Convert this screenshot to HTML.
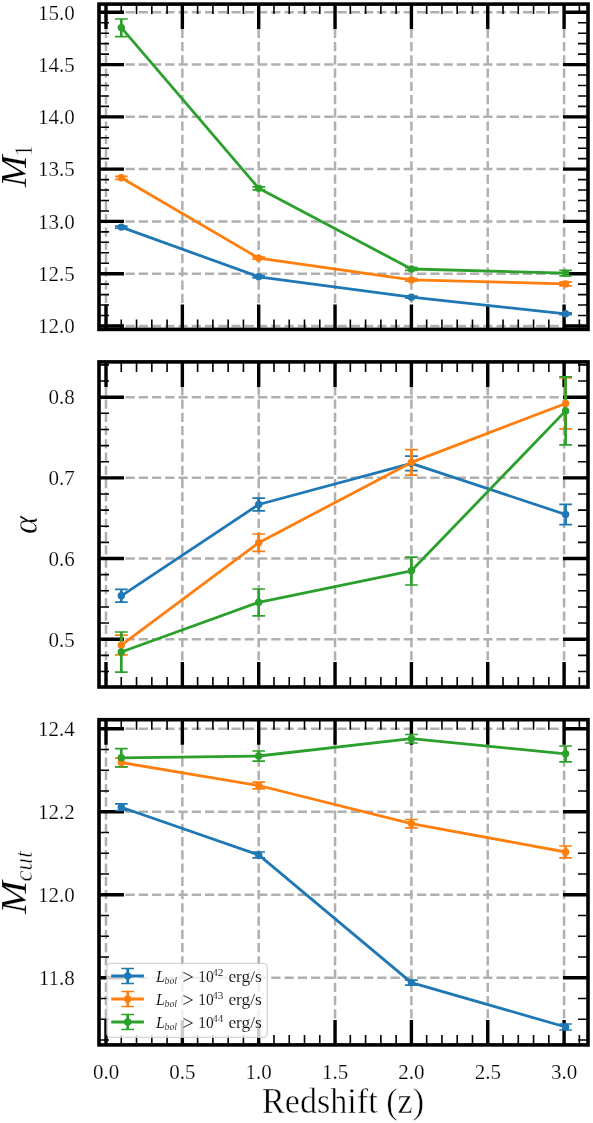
<!DOCTYPE html>
<html><head><meta charset="utf-8"><title>Figure</title><style>html,body{margin:0;padding:0;background:#fff;overflow:hidden}svg{display:block}text{font-family:'Liberation Serif', 'DejaVu Serif', serif;fill:#000;stroke:#fff;stroke-width:0.2px}.big{stroke-width:0.5px}.bm{stroke-width:0.15px}.lg{stroke-width:0.12px}</style></head><body>
<svg width="593" height="1123" viewBox="0 0 593 1123">
<rect width="593" height="1123" fill="#fff"/>
<defs>
<clipPath id="c0"><rect x="99.00" y="4.10" width="489.00" height="325.30"/></clipPath>
<clipPath id="c1"><rect x="99.00" y="361.90" width="489.00" height="325.10"/></clipPath>
<clipPath id="c2"><rect x="99.00" y="719.70" width="489.00" height="325.20"/></clipPath>
</defs>
<g clip-path="url(#c0)">
<path d="M106.00 329.40V4.10M182.35 329.40V4.10M258.70 329.40V4.10M335.05 329.40V4.10M411.40 329.40V4.10M487.75 329.40V4.10M564.10 329.40V4.10M99.00 325.95H588.00M99.00 273.68H588.00M99.00 221.40H588.00M99.00 169.12H588.00M99.00 116.85H588.00M99.00 64.58H588.00M99.00 12.30H588.00" stroke="#b0b0b0" stroke-width="2.50" stroke-dasharray="9.25 4.0" fill="none"/>
<path d="M121.27 4.10V14.10M121.27 329.40V319.40M136.54 4.10V14.10M136.54 329.40V319.40M151.81 4.10V14.10M151.81 329.40V319.40M167.08 4.10V14.10M167.08 329.40V319.40M197.62 4.10V14.10M197.62 329.40V319.40M212.89 4.10V14.10M212.89 329.40V319.40M228.16 4.10V14.10M228.16 329.40V319.40M243.43 4.10V14.10M243.43 329.40V319.40M273.97 4.10V14.10M273.97 329.40V319.40M289.24 4.10V14.10M289.24 329.40V319.40M304.51 4.10V14.10M304.51 329.40V319.40M319.78 4.10V14.10M319.78 329.40V319.40M350.32 4.10V14.10M350.32 329.40V319.40M365.59 4.10V14.10M365.59 329.40V319.40M380.86 4.10V14.10M380.86 329.40V319.40M396.13 4.10V14.10M396.13 329.40V319.40M426.67 4.10V14.10M426.67 329.40V319.40M441.94 4.10V14.10M441.94 329.40V319.40M457.21 4.10V14.10M457.21 329.40V319.40M472.48 4.10V14.10M472.48 329.40V319.40M503.02 4.10V14.10M503.02 329.40V319.40M518.29 4.10V14.10M518.29 329.40V319.40M533.56 4.10V14.10M533.56 329.40V319.40M548.83 4.10V14.10M548.83 329.40V319.40M579.37 4.10V14.10M579.37 329.40V319.40M99.00 315.50H109.00M588.00 315.50H578.00M99.00 305.04H109.00M588.00 305.04H578.00M99.00 294.58H109.00M588.00 294.58H578.00M99.00 284.13H109.00M588.00 284.13H578.00M99.00 263.22H109.00M588.00 263.22H578.00M99.00 252.77H109.00M588.00 252.77H578.00M99.00 242.31H109.00M588.00 242.31H578.00M99.00 231.85H109.00M588.00 231.85H578.00M99.00 210.95H109.00M588.00 210.95H578.00M99.00 200.49H109.00M588.00 200.49H578.00M99.00 190.03H109.00M588.00 190.03H578.00M99.00 179.58H109.00M588.00 179.58H578.00M99.00 158.67H109.00M588.00 158.67H578.00M99.00 148.22H109.00M588.00 148.22H578.00M99.00 137.76H109.00M588.00 137.76H578.00M99.00 127.30H109.00M588.00 127.30H578.00M99.00 106.40H109.00M588.00 106.40H578.00M99.00 95.94H109.00M588.00 95.94H578.00M99.00 85.48H109.00M588.00 85.48H578.00M99.00 75.03H109.00M588.00 75.03H578.00M99.00 54.12H109.00M588.00 54.12H578.00M99.00 43.67H109.00M588.00 43.67H578.00M99.00 33.21H109.00M588.00 33.21H578.00M99.00 22.75H109.00M588.00 22.75H578.00" stroke="#000" stroke-width="1.60" fill="none"/>
<path d="M106.00 4.10V29.10M106.00 329.40V304.40M182.35 4.10V29.10M182.35 329.40V304.40M258.70 4.10V29.10M258.70 329.40V304.40M335.05 4.10V29.10M335.05 329.40V304.40M411.40 4.10V29.10M411.40 329.40V304.40M487.75 4.10V29.10M487.75 329.40V304.40M564.10 4.10V29.10M564.10 329.40V304.40M99.00 325.95H124.00M588.00 325.95H563.00M99.00 273.68H124.00M588.00 273.68H563.00M99.00 221.40H124.00M588.00 221.40H563.00M99.00 169.12H124.00M588.00 169.12H563.00M99.00 116.85H124.00M588.00 116.85H563.00M99.00 64.58H124.00M588.00 64.58H563.00M99.00 12.30H124.00M588.00 12.30H563.00" stroke="#000" stroke-width="3.40" fill="none"/>
<path d="M121.30 226.20V228.20M258.70 275.80V277.80M411.40 296.20V298.20M565.60 312.90V314.70" stroke="#1f77b4" stroke-width="2.70" fill="none"/>
<path d="M114.95 226.20H127.65M114.95 228.20H127.65M252.35 275.80H265.05M252.35 277.80H265.05M405.05 296.20H417.75M405.05 298.20H417.75M559.25 312.90H571.95M559.25 314.70H571.95" stroke="#1f77b4" stroke-width="1.70" fill="none"/>
<path d="M121.30 176.30V179.30M258.70 257.10V259.10M411.40 278.60V281.20M565.60 281.90V285.90" stroke="#ff7f0e" stroke-width="2.70" fill="none"/>
<path d="M114.95 176.30H127.65M114.95 179.30H127.65M252.35 257.10H265.05M252.35 259.10H265.05M405.05 278.60H417.75M405.05 281.20H417.75M559.25 281.90H571.95M559.25 285.90H571.95" stroke="#ff7f0e" stroke-width="1.70" fill="none"/>
<path d="M121.30 19.00V36.60M258.70 186.90V189.80M411.40 267.70V270.30M565.60 270.40V275.80" stroke="#2ca02c" stroke-width="2.70" fill="none"/>
<path d="M114.95 19.00H127.65M114.95 36.60H127.65M252.35 186.90H265.05M252.35 189.80H265.05M405.05 267.70H417.75M405.05 270.30H417.75M559.25 270.40H571.95M559.25 275.80H571.95" stroke="#2ca02c" stroke-width="1.70" fill="none"/>
<polyline points="121.30,227.10 258.70,276.80 411.40,297.20 565.60,313.80" stroke="#1f77b4" stroke-width="2.80" fill="none" stroke-linejoin="round" stroke-linecap="butt"/>
<circle cx="121.30" cy="227.10" r="3.70" fill="#1f77b4"/>
<circle cx="258.70" cy="276.80" r="3.70" fill="#1f77b4"/>
<circle cx="411.40" cy="297.20" r="3.70" fill="#1f77b4"/>
<circle cx="565.60" cy="313.80" r="3.70" fill="#1f77b4"/>
<polyline points="121.30,177.80 258.70,258.10 411.40,279.90 565.60,283.90" stroke="#ff7f0e" stroke-width="2.80" fill="none" stroke-linejoin="round" stroke-linecap="butt"/>
<circle cx="121.30" cy="177.80" r="3.70" fill="#ff7f0e"/>
<circle cx="258.70" cy="258.10" r="3.70" fill="#ff7f0e"/>
<circle cx="411.40" cy="279.90" r="3.70" fill="#ff7f0e"/>
<circle cx="565.60" cy="283.90" r="3.70" fill="#ff7f0e"/>
<polyline points="121.30,27.60 258.70,188.25 411.40,269.00 565.60,273.10" stroke="#2ca02c" stroke-width="2.80" fill="none" stroke-linejoin="round" stroke-linecap="butt"/>
<circle cx="121.30" cy="27.60" r="3.70" fill="#2ca02c"/>
<circle cx="258.70" cy="188.25" r="3.70" fill="#2ca02c"/>
<circle cx="411.40" cy="269.00" r="3.70" fill="#2ca02c"/>
<circle cx="565.60" cy="273.10" r="3.70" fill="#2ca02c"/>
</g>
<rect x="99.00" y="4.10" width="489.00" height="325.30" fill="none" stroke="#000" stroke-width="3.60"/>
<text x="74.80" y="333.25" font-size="21.0" text-anchor="end">12.0</text>
<text x="74.80" y="280.98" font-size="21.0" text-anchor="end">12.5</text>
<text x="74.80" y="228.70" font-size="21.0" text-anchor="end">13.0</text>
<text x="74.80" y="176.43" font-size="21.0" text-anchor="end">13.5</text>
<text x="74.80" y="124.15" font-size="21.0" text-anchor="end">14.0</text>
<text x="74.80" y="71.88" font-size="21.0" text-anchor="end">14.5</text>
<text x="74.80" y="19.60" font-size="21.0" text-anchor="end">15.0</text>
<g clip-path="url(#c1)">
<path d="M106.00 687.00V361.90M182.35 687.00V361.90M258.70 687.00V361.90M335.05 687.00V361.90M411.40 687.00V361.90M487.75 687.00V361.90M564.10 687.00V361.90M99.00 639.20H588.00M99.00 558.53H588.00M99.00 477.86H588.00M99.00 397.19H588.00" stroke="#b0b0b0" stroke-width="2.50" stroke-dasharray="9.25 4.0" fill="none"/>
<path d="M121.27 361.90V371.90M121.27 687.00V677.00M136.54 361.90V371.90M136.54 687.00V677.00M151.81 361.90V371.90M151.81 687.00V677.00M167.08 361.90V371.90M167.08 687.00V677.00M197.62 361.90V371.90M197.62 687.00V677.00M212.89 361.90V371.90M212.89 687.00V677.00M228.16 361.90V371.90M228.16 687.00V677.00M243.43 361.90V371.90M243.43 687.00V677.00M273.97 361.90V371.90M273.97 687.00V677.00M289.24 361.90V371.90M289.24 687.00V677.00M304.51 361.90V371.90M304.51 687.00V677.00M319.78 361.90V371.90M319.78 687.00V677.00M350.32 361.90V371.90M350.32 687.00V677.00M365.59 361.90V371.90M365.59 687.00V677.00M380.86 361.90V371.90M380.86 687.00V677.00M396.13 361.90V371.90M396.13 687.00V677.00M426.67 361.90V371.90M426.67 687.00V677.00M441.94 361.90V371.90M441.94 687.00V677.00M457.21 361.90V371.90M457.21 687.00V677.00M472.48 361.90V371.90M472.48 687.00V677.00M503.02 361.90V371.90M503.02 687.00V677.00M518.29 361.90V371.90M518.29 687.00V677.00M533.56 361.90V371.90M533.56 687.00V677.00M548.83 361.90V371.90M548.83 687.00V677.00M579.37 361.90V371.90M579.37 687.00V677.00M99.00 671.47H109.00M588.00 671.47H578.00M99.00 655.33H109.00M588.00 655.33H578.00M99.00 623.07H109.00M588.00 623.07H578.00M99.00 606.93H109.00M588.00 606.93H578.00M99.00 590.80H109.00M588.00 590.80H578.00M99.00 574.66H109.00M588.00 574.66H578.00M99.00 542.40H109.00M588.00 542.40H578.00M99.00 526.26H109.00M588.00 526.26H578.00M99.00 510.13H109.00M588.00 510.13H578.00M99.00 493.99H109.00M588.00 493.99H578.00M99.00 461.73H109.00M588.00 461.73H578.00M99.00 445.59H109.00M588.00 445.59H578.00M99.00 429.46H109.00M588.00 429.46H578.00M99.00 413.32H109.00M588.00 413.32H578.00M99.00 381.06H109.00M588.00 381.06H578.00M99.00 364.92H109.00M588.00 364.92H578.00" stroke="#000" stroke-width="1.60" fill="none"/>
<path d="M106.00 361.90V386.90M106.00 687.00V662.00M182.35 361.90V386.90M182.35 687.00V662.00M258.70 361.90V386.90M258.70 687.00V662.00M335.05 361.90V386.90M335.05 687.00V662.00M411.40 361.90V386.90M411.40 687.00V662.00M487.75 361.90V386.90M487.75 687.00V662.00M564.10 361.90V386.90M564.10 687.00V662.00M99.00 639.20H124.00M588.00 639.20H563.00M99.00 558.53H124.00M588.00 558.53H563.00M99.00 477.86H124.00M588.00 477.86H563.00M99.00 397.19H124.00M588.00 397.19H563.00" stroke="#000" stroke-width="3.40" fill="none"/>
<path d="M121.30 589.30V602.10M258.70 498.10V510.80M411.40 456.10V470.60M565.60 504.30V524.60" stroke="#1f77b4" stroke-width="2.70" fill="none"/>
<path d="M114.95 589.30H127.65M114.95 602.10H127.65M252.35 498.10H265.05M252.35 510.80H265.05M405.05 456.10H417.75M405.05 470.60H417.75M559.25 504.30H571.95M559.25 524.60H571.95" stroke="#1f77b4" stroke-width="1.70" fill="none"/>
<path d="M121.30 635.20V654.90M258.70 534.00V551.30M411.40 449.70V475.20M565.60 378.00V428.80" stroke="#ff7f0e" stroke-width="2.70" fill="none"/>
<path d="M114.95 635.20H127.65M114.95 654.90H127.65M252.35 534.00H265.05M252.35 551.30H265.05M405.05 449.70H417.75M405.05 475.20H417.75M559.25 378.00H571.95M559.25 428.80H571.95" stroke="#ff7f0e" stroke-width="1.70" fill="none"/>
<path d="M121.30 632.00V672.20M258.70 589.00V615.90M411.40 557.10V585.00M565.60 376.80V444.80" stroke="#2ca02c" stroke-width="2.70" fill="none"/>
<path d="M114.95 632.00H127.65M114.95 672.20H127.65M252.35 589.00H265.05M252.35 615.90H265.05M405.05 557.10H417.75M405.05 585.00H417.75M559.25 376.80H571.95M559.25 444.80H571.95" stroke="#2ca02c" stroke-width="1.70" fill="none"/>
<polyline points="121.30,595.80 258.70,504.50 411.40,463.30 565.60,514.50" stroke="#1f77b4" stroke-width="2.80" fill="none" stroke-linejoin="round" stroke-linecap="butt"/>
<circle cx="121.30" cy="595.80" r="3.70" fill="#1f77b4"/>
<circle cx="258.70" cy="504.50" r="3.70" fill="#1f77b4"/>
<circle cx="411.40" cy="463.30" r="3.70" fill="#1f77b4"/>
<circle cx="565.60" cy="514.50" r="3.70" fill="#1f77b4"/>
<polyline points="121.30,645.10 258.70,542.70 411.40,462.40 565.60,403.50" stroke="#ff7f0e" stroke-width="2.80" fill="none" stroke-linejoin="round" stroke-linecap="butt"/>
<circle cx="121.30" cy="645.10" r="3.70" fill="#ff7f0e"/>
<circle cx="258.70" cy="542.70" r="3.70" fill="#ff7f0e"/>
<circle cx="411.40" cy="462.40" r="3.70" fill="#ff7f0e"/>
<circle cx="565.60" cy="403.50" r="3.70" fill="#ff7f0e"/>
<polyline points="121.30,652.00 258.70,602.30 411.40,570.80 565.60,410.90" stroke="#2ca02c" stroke-width="2.80" fill="none" stroke-linejoin="round" stroke-linecap="butt"/>
<circle cx="121.30" cy="652.00" r="3.70" fill="#2ca02c"/>
<circle cx="258.70" cy="602.30" r="3.70" fill="#2ca02c"/>
<circle cx="411.40" cy="570.80" r="3.70" fill="#2ca02c"/>
<circle cx="565.60" cy="410.90" r="3.70" fill="#2ca02c"/>
</g>
<rect x="99.00" y="361.90" width="489.00" height="325.10" fill="none" stroke="#000" stroke-width="3.60"/>
<text x="74.80" y="646.50" font-size="21.0" text-anchor="end">0.5</text>
<text x="74.80" y="565.83" font-size="21.0" text-anchor="end">0.6</text>
<text x="74.80" y="485.16" font-size="21.0" text-anchor="end">0.7</text>
<text x="74.80" y="404.49" font-size="21.0" text-anchor="end">0.8</text>
<g clip-path="url(#c2)">
<path d="M106.00 1044.90V719.70M182.35 1044.90V719.70M258.70 1044.90V719.70M335.05 1044.90V719.70M411.40 1044.90V719.70M487.75 1044.90V719.70M564.10 1044.90V719.70M99.00 977.70H588.00M99.00 894.70H588.00M99.00 811.70H588.00M99.00 728.70H588.00" stroke="#b0b0b0" stroke-width="2.50" stroke-dasharray="9.25 4.0" fill="none"/>
<path d="M121.27 719.70V729.70M121.27 1044.90V1034.90M136.54 719.70V729.70M136.54 1044.90V1034.90M151.81 719.70V729.70M151.81 1044.90V1034.90M167.08 719.70V729.70M167.08 1044.90V1034.90M197.62 719.70V729.70M197.62 1044.90V1034.90M212.89 719.70V729.70M212.89 1044.90V1034.90M228.16 719.70V729.70M228.16 1044.90V1034.90M243.43 719.70V729.70M243.43 1044.90V1034.90M273.97 719.70V729.70M273.97 1044.90V1034.90M289.24 719.70V729.70M289.24 1044.90V1034.90M304.51 719.70V729.70M304.51 1044.90V1034.90M319.78 719.70V729.70M319.78 1044.90V1034.90M350.32 719.70V729.70M350.32 1044.90V1034.90M365.59 719.70V729.70M365.59 1044.90V1034.90M380.86 719.70V729.70M380.86 1044.90V1034.90M396.13 719.70V729.70M396.13 1044.90V1034.90M426.67 719.70V729.70M426.67 1044.90V1034.90M441.94 719.70V729.70M441.94 1044.90V1034.90M457.21 719.70V729.70M457.21 1044.90V1034.90M472.48 719.70V729.70M472.48 1044.90V1034.90M503.02 719.70V729.70M503.02 1044.90V1034.90M518.29 719.70V729.70M518.29 1044.90V1034.90M533.56 719.70V729.70M533.56 1044.90V1034.90M548.83 719.70V729.70M548.83 1044.90V1034.90M579.37 719.70V729.70M579.37 1044.90V1034.90M99.00 1039.95H109.00M588.00 1039.95H578.00M99.00 1019.20H109.00M588.00 1019.20H578.00M99.00 998.45H109.00M588.00 998.45H578.00M99.00 956.95H109.00M588.00 956.95H578.00M99.00 936.20H109.00M588.00 936.20H578.00M99.00 915.45H109.00M588.00 915.45H578.00M99.00 873.95H109.00M588.00 873.95H578.00M99.00 853.20H109.00M588.00 853.20H578.00M99.00 832.45H109.00M588.00 832.45H578.00M99.00 790.95H109.00M588.00 790.95H578.00M99.00 770.20H109.00M588.00 770.20H578.00M99.00 749.45H109.00M588.00 749.45H578.00" stroke="#000" stroke-width="1.60" fill="none"/>
<path d="M106.00 719.70V744.70M106.00 1044.90V1019.90M182.35 719.70V744.70M182.35 1044.90V1019.90M258.70 719.70V744.70M258.70 1044.90V1019.90M335.05 719.70V744.70M335.05 1044.90V1019.90M411.40 719.70V744.70M411.40 1044.90V1019.90M487.75 719.70V744.70M487.75 1044.90V1019.90M564.10 719.70V744.70M564.10 1044.90V1019.90M99.00 977.70H124.00M588.00 977.70H563.00M99.00 894.70H124.00M588.00 894.70H563.00M99.00 811.70H124.00M588.00 811.70H563.00M99.00 728.70H124.00M588.00 728.70H563.00" stroke="#000" stroke-width="3.40" fill="none"/>
<path d="M121.30 803.80V810.50M258.70 852.00V857.80M411.40 980.10V985.10M565.60 1024.00V1030.00" stroke="#1f77b4" stroke-width="2.70" fill="none"/>
<path d="M114.95 803.80H127.65M114.95 810.50H127.65M252.35 852.00H265.05M252.35 857.80H265.05M405.05 980.10H417.75M405.05 985.10H417.75M559.25 1024.00H571.95M559.25 1030.00H571.95" stroke="#1f77b4" stroke-width="1.70" fill="none"/>
<path d="M121.30 758.10V766.90M258.70 782.20V788.80M411.40 819.50V827.80M565.60 846.00V857.80" stroke="#ff7f0e" stroke-width="2.70" fill="none"/>
<path d="M114.95 758.10H127.65M114.95 766.90H127.65M252.35 782.20H265.05M252.35 788.80H265.05M405.05 819.50H417.75M405.05 827.80H417.75M559.25 846.00H571.95M559.25 857.80H571.95" stroke="#ff7f0e" stroke-width="1.70" fill="none"/>
<path d="M121.30 748.60V766.90M258.70 751.00V761.10M411.40 734.50V743.00M565.60 746.00V761.80" stroke="#2ca02c" stroke-width="2.70" fill="none"/>
<path d="M114.95 748.60H127.65M114.95 766.90H127.65M252.35 751.00H265.05M252.35 761.10H265.05M405.05 734.50H417.75M405.05 743.00H417.75M559.25 746.00H571.95M559.25 761.80H571.95" stroke="#2ca02c" stroke-width="1.70" fill="none"/>
<polyline points="121.30,807.20 258.70,854.90 411.40,982.60 565.60,1027.00" stroke="#1f77b4" stroke-width="2.80" fill="none" stroke-linejoin="round" stroke-linecap="butt"/>
<circle cx="121.30" cy="807.20" r="3.70" fill="#1f77b4"/>
<circle cx="258.70" cy="854.90" r="3.70" fill="#1f77b4"/>
<circle cx="411.40" cy="982.60" r="3.70" fill="#1f77b4"/>
<circle cx="565.60" cy="1027.00" r="3.70" fill="#1f77b4"/>
<polyline points="121.30,762.50 258.70,785.50 411.40,823.60 565.60,852.00" stroke="#ff7f0e" stroke-width="2.80" fill="none" stroke-linejoin="round" stroke-linecap="butt"/>
<circle cx="121.30" cy="762.50" r="3.70" fill="#ff7f0e"/>
<circle cx="258.70" cy="785.50" r="3.70" fill="#ff7f0e"/>
<circle cx="411.40" cy="823.60" r="3.70" fill="#ff7f0e"/>
<circle cx="565.60" cy="852.00" r="3.70" fill="#ff7f0e"/>
<polyline points="121.30,757.80 258.70,756.00 411.40,738.70 565.60,753.80" stroke="#2ca02c" stroke-width="2.80" fill="none" stroke-linejoin="round" stroke-linecap="butt"/>
<circle cx="121.30" cy="757.80" r="3.70" fill="#2ca02c"/>
<circle cx="258.70" cy="756.00" r="3.70" fill="#2ca02c"/>
<circle cx="411.40" cy="738.70" r="3.70" fill="#2ca02c"/>
<circle cx="565.60" cy="753.80" r="3.70" fill="#2ca02c"/>
</g>
<rect x="99.00" y="719.70" width="489.00" height="325.20" fill="none" stroke="#000" stroke-width="3.60"/>
<text x="74.80" y="985.00" font-size="21.0" text-anchor="end">11.8</text>
<text x="74.80" y="902.00" font-size="21.0" text-anchor="end">12.0</text>
<text x="74.80" y="819.00" font-size="21.0" text-anchor="end">12.2</text>
<text x="74.80" y="736.00" font-size="21.0" text-anchor="end">12.4</text>
<text x="106.00" y="1078.60" font-size="21.0" text-anchor="middle">0.0</text>
<text x="182.35" y="1078.60" font-size="21.0" text-anchor="middle">0.5</text>
<text x="258.70" y="1078.60" font-size="21.0" text-anchor="middle">1.0</text>
<text x="335.05" y="1078.60" font-size="21.0" text-anchor="middle">1.5</text>
<text x="411.40" y="1078.60" font-size="21.0" text-anchor="middle">2.0</text>
<text x="487.75" y="1078.60" font-size="21.0" text-anchor="middle">2.5</text>
<text x="564.10" y="1078.60" font-size="21.0" text-anchor="middle">3.0</text>
<text class="bm" transform="translate(26.00 187.00) rotate(-90)" x="0" y="0" font-size="36.00" font-style="italic" textLength="31.50" lengthAdjust="spacingAndGlyphs" text-anchor="start">M</text>
<text class="big" transform="translate(32.00 156.80) rotate(-90)" x="0" y="0" font-size="24.50" text-anchor="start">1</text>
<text class="big" transform="translate(37.00 534.00) rotate(-90)" x="0" y="0" font-size="35.00" font-style="italic" text-anchor="start">α</text>
<text class="bm" transform="translate(26.30 913.70) rotate(-90)" x="0" y="0" font-size="36.00" font-style="italic" textLength="33.00" lengthAdjust="spacingAndGlyphs" text-anchor="start">M</text>
<text class="big" transform="translate(32.30 881.60) rotate(-90)" x="0" y="0" font-size="26.00" font-style="italic" textLength="30.50" lengthAdjust="spacingAndGlyphs" text-anchor="start">cut</text>
<text class="big" x="262.00" y="1112.90" font-size="36.00" textLength="162.00" lengthAdjust="spacingAndGlyphs">Redshift (z)</text>
<rect x="106.90" y="963.40" width="160.40" height="74.00" rx="3.80" fill="#fff" fill-opacity="0.8" stroke="#cccccc" stroke-opacity="0.8" stroke-width="1.40"/>
<path d="M127.70 968.50V983.50" stroke="#1f77b4" stroke-width="2.70"/>
<path d="M121.35 968.50H134.05M121.35 983.50H134.05" stroke="#1f77b4" stroke-width="1.70"/>
<path d="M111.20 976.00H143.90" stroke="#1f77b4" stroke-width="2.80"/>
<circle cx="127.70" cy="976.00" r="3.70" fill="#1f77b4"/>
<text class="lg" x="156.00" y="981.60" font-size="15.90" font-style="italic">L</text>
<text class="lg" x="164.50" y="983.90" font-size="11.20" font-style="italic" textLength="12.50" lengthAdjust="spacingAndGlyphs">bol</text>
<text class="lg" x="182.20" y="984.20" font-size="20.50">&gt;</text>
<text class="lg" x="198.30" y="981.60" font-size="15.90" textLength="15.40" lengthAdjust="spacingAndGlyphs">10</text>
<text class="lg" x="212.20" y="976.30" font-size="11.20">42</text>
<text class="lg" x="228.40" y="981.60" font-size="15.90" textLength="33.40" lengthAdjust="spacingAndGlyphs">erg/s</text>
<path d="M127.70 991.50V1006.50" stroke="#ff7f0e" stroke-width="2.70"/>
<path d="M121.35 991.50H134.05M121.35 1006.50H134.05" stroke="#ff7f0e" stroke-width="1.70"/>
<path d="M111.20 999.00H143.90" stroke="#ff7f0e" stroke-width="2.80"/>
<circle cx="127.70" cy="999.00" r="3.70" fill="#ff7f0e"/>
<text class="lg" x="156.00" y="1004.60" font-size="15.90" font-style="italic">L</text>
<text class="lg" x="164.50" y="1006.90" font-size="11.20" font-style="italic" textLength="12.50" lengthAdjust="spacingAndGlyphs">bol</text>
<text class="lg" x="182.20" y="1007.20" font-size="20.50">&gt;</text>
<text class="lg" x="198.30" y="1004.60" font-size="15.90" textLength="15.40" lengthAdjust="spacingAndGlyphs">10</text>
<text class="lg" x="212.20" y="999.30" font-size="11.20">43</text>
<text class="lg" x="228.40" y="1004.60" font-size="15.90" textLength="33.40" lengthAdjust="spacingAndGlyphs">erg/s</text>
<path d="M127.70 1014.50V1029.50" stroke="#2ca02c" stroke-width="2.70"/>
<path d="M121.35 1014.50H134.05M121.35 1029.50H134.05" stroke="#2ca02c" stroke-width="1.70"/>
<path d="M111.20 1022.00H143.90" stroke="#2ca02c" stroke-width="2.80"/>
<circle cx="127.70" cy="1022.00" r="3.70" fill="#2ca02c"/>
<text class="lg" x="156.00" y="1027.60" font-size="15.90" font-style="italic">L</text>
<text class="lg" x="164.50" y="1029.90" font-size="11.20" font-style="italic" textLength="12.50" lengthAdjust="spacingAndGlyphs">bol</text>
<text class="lg" x="182.20" y="1030.20" font-size="20.50">&gt;</text>
<text class="lg" x="198.30" y="1027.60" font-size="15.90" textLength="15.40" lengthAdjust="spacingAndGlyphs">10</text>
<text class="lg" x="212.20" y="1022.30" font-size="11.20">44</text>
<text class="lg" x="228.40" y="1027.60" font-size="15.90" textLength="33.40" lengthAdjust="spacingAndGlyphs">erg/s</text>
</svg></body></html>
